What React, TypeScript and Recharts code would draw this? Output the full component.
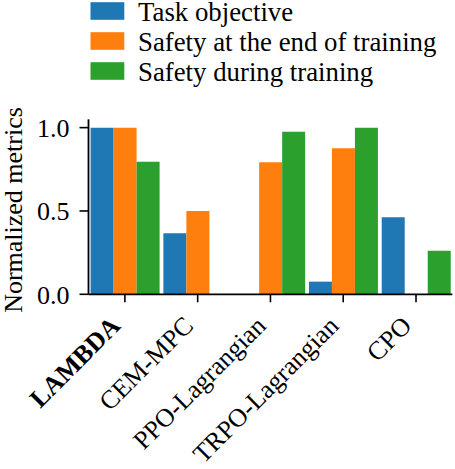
import { BarChart, Bar, XAxis, YAxis, Legend } from "recharts";

const methods = ["LAMBDA", "CEM-MPC", "PPO-Lagrangian", "TRPO-Lagrangian", "CPO"];
const taskObjective = [1.0, 0.366, null, 0.076, 0.462];
const safetyEnd = [1.0, 0.5, 0.792, 0.876, null];
const safetyDuring = [0.796, null, 0.976, 1.0, 0.262];
const yTicks = [0, 0.5, 1.0];

const seriesNames = ["Task objective", "Safety at the end of training", "Safety during training"];
const colors = ["#1f77b4", "#ff7f0e", "#2ca02c"];

const data = methods.map((m, i) => ({
  method: m,
  task: taskObjective[i],
  end: safetyEnd[i],
  during: safetyDuring[i],
}));

const FONT = "Liberation Serif, serif";
const textStyle = { fontFamily: FONT, fontSize: 26 };

function MethodTick(props: any) {
  const { x, y, payload } = props;
  const px = x - 3;
  const py = y + 25;
  return (
    <text
      x={px}
      y={py}
      textAnchor="end"
      transform={`rotate(-45 ${px} ${py})`}
      style={{ ...textStyle, fontWeight: payload.value === "LAMBDA" ? "bold" : "normal" }}
      fill="#000"
    >
      {payload.value}
    </text>
  );
}

function LegendBox() {
  // legend rows, 30px apart
  const rows = [2.2, 32.2, 62.2];
  return (
    <svg width={455} height={92} style={{ display: "block", overflow: "visible" }}>
      {seriesNames.map((name, i) => (
        <g key={name}>
          <rect x={90.5} y={rows[i]} width={33.8} height={17.6} fill={colors[i]} />
          <text x={138} y={rows[i] + 18.5} style={{ fontFamily: FONT, fontSize: 26.8 }} fill="#000">
            {name}
          </text>
        </g>
      ))}
    </svg>
  );
}

export default function App() {
  return (
    <div
      style={{
        position: "absolute",
        left: 0,
        top: 0,
        width: 455,
        height: 469,
        background: "#fff",
        fontFamily: FONT,
      }}
    >
      <BarChart
        width={455}
        height={469}
        data={data}
        margin={{ top: 119.3, right: 2.6, bottom: 114.7, left: 0 }}
        barGap={0}
        barCategoryGap={2.1}
      >
        <XAxis
          dataKey="method"
          height={60}
          interval={0}
          tickSize={8}
          tickMargin={0}
          tick={<MethodTick />}
          axisLine={{ stroke: "#000", strokeWidth: 1.8 }}
          tickLine={{ stroke: "#000", strokeWidth: 1.6 }}
        />
        <YAxis
          width={88.5}
          domain={[0, 1.05]}
          ticks={yTicks}
          tickFormatter={(v: number) => v.toFixed(1)}
          tickSize={9}
          tickMargin={10}
          tick={{ style: textStyle, fill: "#000" }}
          axisLine={{ stroke: "#000", strokeWidth: 1.8 }}
          tickLine={{ stroke: "#000", strokeWidth: 1.6 }}
          label={{
            content: () => (
              <text
                x={21.7}
                y={210}
                textAnchor="middle"
                transform="rotate(-90 21.7 210)"
                style={textStyle}
                fill="#000"
              >
                Normalized metrics
              </text>
            ),
          }}
        />
        <Legend
          verticalAlign="middle"
          align="center"
          layout="horizontal"
          wrapperStyle={{ top: 0, left: 0, width: 455, height: 92 }}
          content={() => <LegendBox />}
        />
        <Bar dataKey="task" name={seriesNames[0]} fill={colors[0]} isAnimationActive={false} />
        <Bar dataKey="end" name={seriesNames[1]} fill={colors[1]} isAnimationActive={false} />
        <Bar dataKey="during" name={seriesNames[2]} fill={colors[2]} isAnimationActive={false} />
      </BarChart>
    </div>
  );
}
